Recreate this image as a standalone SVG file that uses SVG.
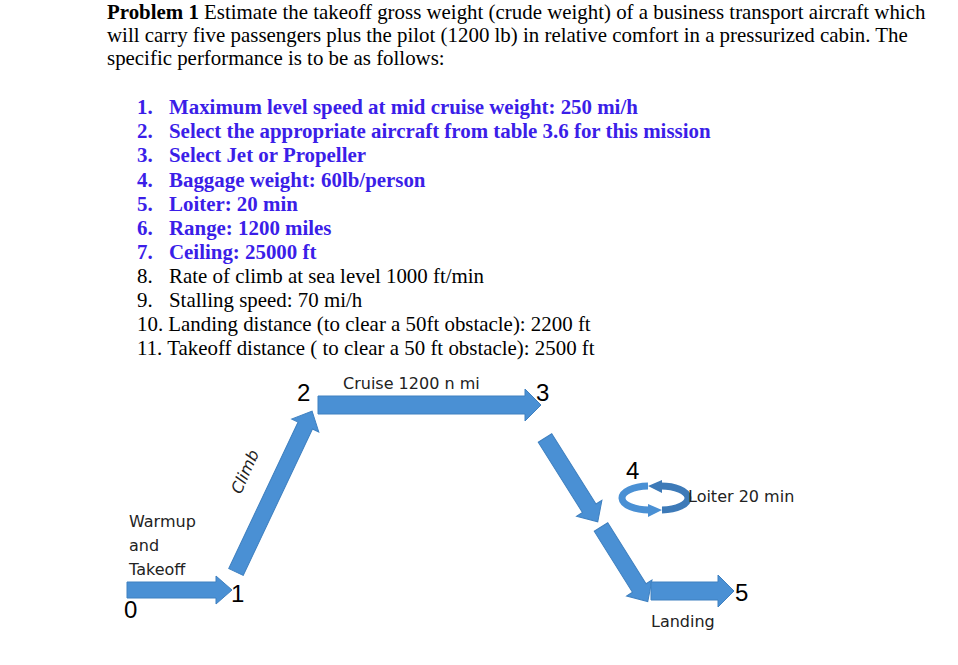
<svg xmlns="http://www.w3.org/2000/svg" width="958" height="665" viewBox="0 0 958 665">
<style>
.t{font-family:"Liberation Serif",serif;font-size:20.9px;fill:#000}
.b{font-family:"Liberation Serif",serif;font-size:20.9px;font-weight:bold;fill:#3b1ee8}
.s{font-family:"DejaVu Sans","Liberation Sans",sans-serif;font-size:16px;fill:#222}
.n{font-family:"Liberation Sans",sans-serif;font-size:24px;fill:#000}
.a{fill:#4a90d4;stroke:#3f80c0;stroke-width:1}
</style>
<rect width="958" height="665" fill="#fff"/>
<g id="problem">
<text class="t" x="107" y="19"><tspan font-weight="bold">Problem 1</tspan> Estimate the takeoff gross weight (crude weight) of a business transport aircraft which</text>
<text class="t" x="107" y="42">will carry five passengers plus the pilot (1200 lb) in relative comfort in a pressurized cabin.  The</text>
<text class="t" x="107" y="65">specific performance is to be as follows:</text>
</g>
<g id="list">
<text class="b" x="137" y="114"><tspan x="137">1.</tspan><tspan x="169">Maximum level speed at mid cruise weight: 250 mi/h</tspan></text>
<text class="b" x="137" y="138"><tspan x="137">2.</tspan><tspan x="169">Select the appropriate aircraft from table 3.6 for this mission</tspan></text>
<text class="b" x="137" y="162"><tspan x="137">3.</tspan><tspan x="169">Select Jet or Propeller</tspan></text>
<text class="b" x="137" y="187"><tspan x="137">4.</tspan><tspan x="169">Baggage weight: 60lb/person</tspan></text>
<text class="b" x="137" y="211"><tspan x="137">5.</tspan><tspan x="169">Loiter: 20 min</tspan></text>
<text class="b" x="137" y="235"><tspan x="137">6.</tspan><tspan x="169">Range: 1200 miles</tspan></text>
<text class="b" x="137" y="259"><tspan x="137">7.</tspan><tspan x="169">Ceiling: 25000 ft</tspan></text>
<text class="t" x="137" y="283"><tspan x="137">8.</tspan><tspan x="169">Rate of climb at sea level 1000 ft/min</tspan></text>
<text class="t" x="137" y="307"><tspan x="137">9.</tspan><tspan x="169">Stalling speed: 70 mi/h</tspan></text>
<text class="t" x="137" y="331">10. Landing distance (to clear a 50ft obstacle): 2200 ft</text>
<text class="t" x="137" y="355">11. Takeoff distance ( to clear a 50 ft obstacle): 2500 ft</text>
</g>
<g id="connectors">
<polygon class="a" transform="translate(127,590)" points="0,-8 89,-8 89,-14 105,0 89,14 89,8 0,8"/>
<polygon class="a" transform="translate(236,572) rotate(-64.7)" points="0,-8 162,-8 162,-15 178,0 162,15 162,8 0,8"/>
<polygon class="a" transform="translate(318,405)" points="0,-9 207,-9 207,-16 223,0 207,16 207,9 0,9"/>
<polygon class="a" transform="translate(545,438) rotate(57.8)" points="0,-8 83,-8 83,-15 99,0 83,15 83,8 0,8"/>
<polygon class="a" transform="translate(601,527) rotate(57.9)" points="0,-8 72,-8 72,-15 88,0 72,15 72,8 0,8"/>
<polygon class="a" transform="translate(651,591)" points="0,-9 67,-9 67,-16 83,0 67,16 67,9 0,9"/>
</g>
<g id="loiter">
<path d="M648,486 A27,12 0 0 0 650,510" fill="none" stroke="#4a90d4" stroke-width="7"/>
<polygon points="648,504 662,510 648,517" fill="#4a90d4"/>
<path d="M662,510 A27,12 0 0 0 660,486" fill="none" stroke="#3d7ab8" stroke-width="7"/>
<polygon points="662,480 648,486 662,493" fill="#3d7ab8"/>
</g>
<g id="labels">
<text class="n" x="124" y="618">0</text>
<text class="n" x="231" y="602">1</text>
<text class="n" x="297" y="401">2</text>
<text class="n" x="536" y="401">3</text>
<text class="n" x="626" y="479">4</text>
<text class="n" x="735" y="601">5</text>
<text class="s" x="343" y="389">Cruise 1200 n mi</text>
<text class="s" x="250" y="474" transform="rotate(-66 250 474)" text-anchor="middle" font-style="italic">Climb</text>
<text class="s" x="129" y="527">Warmup</text>
<text class="s" x="129" y="551">and</text>
<text class="s" x="129" y="575">Takeoff</text>
<text class="s" x="688" y="502">Loiter 20 min</text>
<text class="s" x="651" y="627">Landing</text>
</g>
</svg>
